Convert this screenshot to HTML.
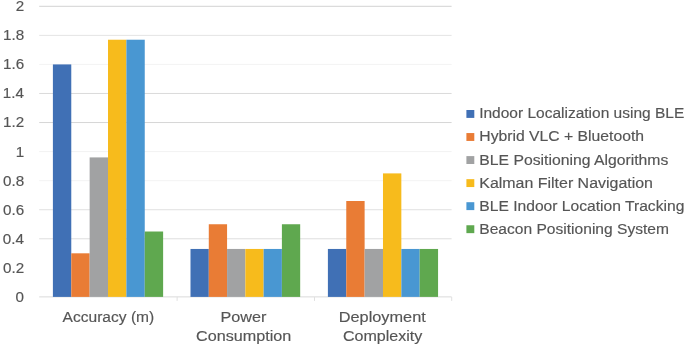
<!DOCTYPE html><html><head><meta charset="utf-8"><title>chart</title><style>html,body{margin:0;padding:0;background:#fff}svg{display:block}text{font-family:"Liberation Sans","DejaVu Sans",sans-serif;fill:#555;font-size:13.8px;stroke:#555;stroke-width:0.15px}</style></head><body>
<svg width="685" height="347" viewBox="0 0 685 347">
<rect width="685" height="347" fill="#fff"/>
<defs><filter id="b" x="-2%" y="-2%" width="104%" height="104%"><feGaussianBlur stdDeviation="0.45"/></filter></defs>
<g filter="url(#b)">
<line x1="39.2" x2="451.6" y1="296.90" y2="296.90" stroke="#dadada" stroke-width="1"/>
<line x1="39.2" x2="451.6" y1="267.84" y2="267.84" stroke="#ffffff" stroke-width="1"/>
<line x1="39.2" x2="451.6" y1="238.78" y2="238.78" stroke="#dedede" stroke-width="1"/>
<line x1="39.2" x2="451.6" y1="209.72" y2="209.72" stroke="#e0e0e0" stroke-width="1"/>
<line x1="39.2" x2="451.6" y1="180.66" y2="180.66" stroke="#f3f3f3" stroke-width="1"/>
<line x1="39.2" x2="451.6" y1="151.60" y2="151.60" stroke="#f2f2f2" stroke-width="1"/>
<line x1="39.2" x2="451.6" y1="122.54" y2="122.54" stroke="#d6d6d6" stroke-width="1"/>
<line x1="39.2" x2="451.6" y1="93.48" y2="93.48" stroke="#dadada" stroke-width="1"/>
<line x1="39.2" x2="451.6" y1="64.42" y2="64.42" stroke="#f3f3f3" stroke-width="1"/>
<line x1="39.2" x2="451.6" y1="35.36" y2="35.36" stroke="#e4e4e4" stroke-width="1"/>
<line x1="39.2" x2="451.6" y1="6.30" y2="6.30" stroke="#d2d2d2" stroke-width="1"/>
<line x1="177.1" x2="177.1" y1="296.9" y2="300.9" stroke="#e0e0e0" stroke-width="1"/>
<line x1="314.5" x2="314.5" y1="296.9" y2="300.9" stroke="#e0e0e0" stroke-width="1"/>
<line x1="451.7" x2="451.7" y1="296.9" y2="300.9" stroke="#e0e0e0" stroke-width="1"/>
<rect x="52.90" y="64.42" width="18.37" height="232.48" fill="#3f6fb5"/>
<rect x="71.27" y="253.31" width="18.37" height="43.59" fill="#e97c36"/>
<rect x="89.64" y="157.41" width="18.37" height="139.49" fill="#a1a2a3"/>
<rect x="108.01" y="39.72" width="18.37" height="257.18" fill="#f7bb1e"/>
<rect x="126.38" y="39.72" width="18.37" height="257.18" fill="#4a97d2"/>
<rect x="144.75" y="231.51" width="18.37" height="65.38" fill="#5fa84f"/>
<rect x="190.50" y="248.95" width="18.28" height="47.95" fill="#3f6fb5"/>
<rect x="208.78" y="224.25" width="18.28" height="72.65" fill="#e97c36"/>
<rect x="227.06" y="248.95" width="18.28" height="47.95" fill="#a1a2a3"/>
<rect x="245.34" y="248.95" width="18.28" height="47.95" fill="#f7bb1e"/>
<rect x="263.62" y="248.95" width="18.28" height="47.95" fill="#4a97d2"/>
<rect x="281.90" y="224.25" width="18.28" height="72.65" fill="#5fa84f"/>
<rect x="327.90" y="248.95" width="18.36" height="47.95" fill="#3f6fb5"/>
<rect x="346.26" y="201.00" width="18.36" height="95.90" fill="#e97c36"/>
<rect x="364.62" y="248.95" width="18.36" height="47.95" fill="#a1a2a3"/>
<rect x="382.98" y="173.39" width="18.36" height="123.50" fill="#f7bb1e"/>
<rect x="401.34" y="248.95" width="18.36" height="47.95" fill="#4a97d2"/>
<rect x="419.70" y="248.95" width="18.36" height="47.95" fill="#5fa84f"/>
<text x="15.60" y="301.80" textLength="8.46" lengthAdjust="spacingAndGlyphs">0</text>
<text x="3.08" y="272.74" textLength="21.11" lengthAdjust="spacingAndGlyphs">0.2</text>
<text x="2.78" y="243.68" textLength="21.11" lengthAdjust="spacingAndGlyphs">0.4</text>
<text x="3.03" y="214.62" textLength="21.11" lengthAdjust="spacingAndGlyphs">0.6</text>
<text x="3.06" y="185.56" textLength="21.11" lengthAdjust="spacingAndGlyphs">0.8</text>
<text x="15.70" y="156.50" textLength="8.46" lengthAdjust="spacingAndGlyphs">1</text>
<text x="3.08" y="127.44" textLength="21.11" lengthAdjust="spacingAndGlyphs">1.2</text>
<text x="2.78" y="98.38" textLength="21.11" lengthAdjust="spacingAndGlyphs">1.4</text>
<text x="3.03" y="69.32" textLength="21.11" lengthAdjust="spacingAndGlyphs">1.6</text>
<text x="3.06" y="40.26" textLength="21.11" lengthAdjust="spacingAndGlyphs">1.8</text>
<text x="15.72" y="11.20" textLength="8.46" lengthAdjust="spacingAndGlyphs">2</text>
<text x="479.15" y="118.40" textLength="205.14" lengthAdjust="spacingAndGlyphs">Indoor Localization using BLE</text>
<text x="479.30" y="141.45" textLength="164.74" lengthAdjust="spacingAndGlyphs">Hybrid VLC + Bluetooth</text>
<text x="479.29" y="164.50" textLength="189.03" lengthAdjust="spacingAndGlyphs">BLE Positioning Algorithms</text>
<text x="479.28" y="187.55" textLength="173.72" lengthAdjust="spacingAndGlyphs">Kalman Filter Navigation</text>
<text x="479.30" y="210.60" textLength="205.04" lengthAdjust="spacingAndGlyphs">BLE Indoor Location Tracking</text>
<text x="479.31" y="233.65" textLength="189.70" lengthAdjust="spacingAndGlyphs">Beacon Positioning System</text>
<text x="62.62" y="321.60" textLength="91.61" lengthAdjust="spacingAndGlyphs">Accuracy (m)</text>
<text x="220.46" y="321.70" textLength="45.93" lengthAdjust="spacingAndGlyphs">Power</text>
<text x="196.03" y="341.20" textLength="95.27" lengthAdjust="spacingAndGlyphs">Consumption</text>
<text x="338.75" y="321.60" textLength="87.02" lengthAdjust="spacingAndGlyphs">Deployment</text>
<text x="342.93" y="341.20" textLength="79.44" lengthAdjust="spacingAndGlyphs">Complexity</text>
<rect x="466.4" y="110.00" width="7.9" height="7.9" fill="#3f6fb5"/>
<rect x="466.4" y="133.05" width="7.9" height="7.9" fill="#e97c36"/>
<rect x="466.4" y="156.10" width="7.9" height="7.9" fill="#a1a2a3"/>
<rect x="466.4" y="179.15" width="7.9" height="7.9" fill="#f7bb1e"/>
<rect x="466.4" y="202.20" width="7.9" height="7.9" fill="#4a97d2"/>
<rect x="466.4" y="225.25" width="7.9" height="7.9" fill="#5fa84f"/>
</g>
</svg></body></html>
